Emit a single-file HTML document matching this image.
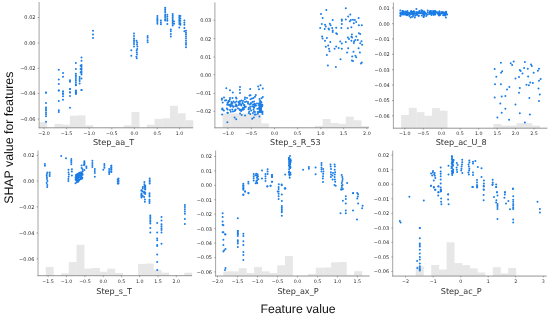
<!DOCTYPE html>
<html><head><meta charset="utf-8"><title>SHAP dependence plots</title>
<style>html,body{margin:0;padding:0;background:#fff;overflow:hidden}svg{display:block}text{text-rendering:geometricPrecision}.tk{font-family:"DejaVu Sans","Liberation Sans",sans-serif;font-size:4.75px;fill:#2a2a2a}.ty{font-size:5px}.xl{font-family:"DejaVu Sans","Liberation Sans",sans-serif;font-size:8.1px;fill:#333}.big{font-family:"Liberation Sans",Arial,sans-serif;fill:#111}</style></head><body>
<svg width="550" height="316" viewBox="0 0 550 316">
<rect width="550" height="316" fill="#fff"/>
<g>
<rect x="39.10" y="122.10" width="7.95" height="5.70" fill="#e7e7e7"/>
<rect x="54.50" y="123.90" width="7.95" height="3.90" fill="#e7e7e7"/>
<rect x="62.20" y="124.70" width="7.95" height="3.10" fill="#e7e7e7"/>
<rect x="69.90" y="115.70" width="7.95" height="12.10" fill="#e7e7e7"/>
<rect x="77.60" y="115.40" width="7.95" height="12.40" fill="#e7e7e7"/>
<rect x="85.30" y="125.30" width="7.95" height="2.50" fill="#e7e7e7"/>
<rect x="123.80" y="125.30" width="7.95" height="2.50" fill="#e7e7e7"/>
<rect x="131.50" y="111.90" width="7.95" height="15.90" fill="#e7e7e7"/>
<rect x="146.90" y="124.70" width="7.95" height="3.10" fill="#e7e7e7"/>
<rect x="154.60" y="118.90" width="7.95" height="8.90" fill="#e7e7e7"/>
<rect x="162.30" y="118.30" width="7.95" height="9.50" fill="#e7e7e7"/>
<rect x="170.00" y="105.80" width="7.95" height="22.00" fill="#e7e7e7"/>
<rect x="177.70" y="113.30" width="7.95" height="14.50" fill="#e7e7e7"/>
<rect x="185.40" y="120.20" width="7.95" height="7.60" fill="#e7e7e7"/>
<line x1="39.10" y1="2.00" x2="39.10" y2="128.20" stroke="#9a9a9a" stroke-width="0.9"/>
<line x1="38.70" y1="127.80" x2="193.10" y2="127.80" stroke="#888" stroke-width="0.9"/>
<line x1="37.70" y1="17.50" x2="39.10" y2="17.50" stroke="#555" stroke-width="0.5"/><text class="tk ty" x="35.50" y="19.35" text-anchor="end">0.02</text>
<line x1="37.70" y1="43.00" x2="39.10" y2="43.00" stroke="#555" stroke-width="0.5"/><text class="tk ty" x="35.50" y="44.85" text-anchor="end">0.00</text>
<line x1="37.70" y1="68.30" x2="39.10" y2="68.30" stroke="#555" stroke-width="0.5"/><text class="tk ty" x="35.50" y="70.15" text-anchor="end">−0.02</text>
<line x1="37.70" y1="93.50" x2="39.10" y2="93.50" stroke="#555" stroke-width="0.5"/><text class="tk ty" x="35.50" y="95.35" text-anchor="end">−0.04</text>
<line x1="37.70" y1="119.00" x2="39.10" y2="119.00" stroke="#555" stroke-width="0.5"/><text class="tk ty" x="35.50" y="120.85" text-anchor="end">−0.06</text>
<line x1="44.00" y1="127.80" x2="44.00" y2="129.20" stroke="#555" stroke-width="0.5"/><text class="tk" x="44.00" y="135.00" text-anchor="middle">−2.0</text>
<line x1="66.60" y1="127.80" x2="66.60" y2="129.20" stroke="#555" stroke-width="0.5"/><text class="tk" x="66.60" y="135.00" text-anchor="middle">−1.5</text>
<line x1="89.20" y1="127.80" x2="89.20" y2="129.20" stroke="#555" stroke-width="0.5"/><text class="tk" x="89.20" y="135.00" text-anchor="middle">−1.0</text>
<line x1="111.80" y1="127.80" x2="111.80" y2="129.20" stroke="#555" stroke-width="0.5"/><text class="tk" x="111.80" y="135.00" text-anchor="middle">−0.5</text>
<line x1="134.40" y1="127.80" x2="134.40" y2="129.20" stroke="#555" stroke-width="0.5"/><text class="tk" x="134.40" y="135.00" text-anchor="middle">0.0</text>
<line x1="157.20" y1="127.80" x2="157.20" y2="129.20" stroke="#555" stroke-width="0.5"/><text class="tk" x="157.20" y="135.00" text-anchor="middle">0.5</text>
<line x1="179.60" y1="127.80" x2="179.60" y2="129.20" stroke="#555" stroke-width="0.5"/><text class="tk" x="179.60" y="135.00" text-anchor="middle">1.0</text>
<text class="xl" x="113.60" y="145.45" text-anchor="middle">Step_aa_T</text>
</g>
<g>
<rect x="222.60" y="113.60" width="7.95" height="14.20" fill="#e7e7e7"/>
<rect x="230.30" y="113.40" width="7.95" height="14.40" fill="#e7e7e7"/>
<rect x="238.00" y="113.80" width="7.95" height="14.00" fill="#e7e7e7"/>
<rect x="245.70" y="113.20" width="7.95" height="14.60" fill="#e7e7e7"/>
<rect x="253.40" y="114.00" width="7.95" height="13.80" fill="#e7e7e7"/>
<rect x="261.10" y="123.40" width="7.95" height="4.40" fill="#e7e7e7"/>
<rect x="315.00" y="125.90" width="7.95" height="1.90" fill="#e7e7e7"/>
<rect x="322.70" y="119.00" width="7.95" height="8.80" fill="#e7e7e7"/>
<rect x="330.40" y="123.00" width="7.95" height="4.80" fill="#e7e7e7"/>
<rect x="338.10" y="123.80" width="7.95" height="4.00" fill="#e7e7e7"/>
<rect x="345.80" y="116.60" width="7.95" height="11.20" fill="#e7e7e7"/>
<rect x="353.50" y="120.30" width="7.95" height="7.50" fill="#e7e7e7"/>
<rect x="361.20" y="126.20" width="7.95" height="1.60" fill="#e7e7e7"/>
<line x1="214.90" y1="2.40" x2="214.90" y2="128.20" stroke="#9a9a9a" stroke-width="0.9"/>
<line x1="214.50" y1="127.80" x2="368.90" y2="127.80" stroke="#888" stroke-width="0.9"/>
<line x1="213.50" y1="20.30" x2="214.90" y2="20.30" stroke="#555" stroke-width="0.5"/><text class="tk ty" x="211.30" y="22.15" text-anchor="end">0.03</text>
<line x1="213.50" y1="38.70" x2="214.90" y2="38.70" stroke="#555" stroke-width="0.5"/><text class="tk ty" x="211.30" y="40.55" text-anchor="end">0.02</text>
<line x1="213.50" y1="57.10" x2="214.90" y2="57.10" stroke="#555" stroke-width="0.5"/><text class="tk ty" x="211.30" y="58.95" text-anchor="end">0.01</text>
<line x1="213.50" y1="74.70" x2="214.90" y2="74.70" stroke="#555" stroke-width="0.5"/><text class="tk ty" x="211.30" y="76.55" text-anchor="end">0.00</text>
<line x1="213.50" y1="93.50" x2="214.90" y2="93.50" stroke="#555" stroke-width="0.5"/><text class="tk ty" x="211.30" y="95.35" text-anchor="end">−0.01</text>
<line x1="213.50" y1="111.40" x2="214.90" y2="111.40" stroke="#555" stroke-width="0.5"/><text class="tk ty" x="211.30" y="113.25" text-anchor="end">−0.02</text>
<line x1="227.90" y1="127.80" x2="227.90" y2="129.20" stroke="#555" stroke-width="0.5"/><text class="tk" x="227.90" y="135.00" text-anchor="middle">−1.0</text>
<line x1="251.30" y1="127.80" x2="251.30" y2="129.20" stroke="#555" stroke-width="0.5"/><text class="tk" x="251.30" y="135.00" text-anchor="middle">−0.5</text>
<line x1="274.50" y1="127.80" x2="274.50" y2="129.20" stroke="#555" stroke-width="0.5"/><text class="tk" x="274.50" y="135.00" text-anchor="middle">0.0</text>
<line x1="297.60" y1="127.80" x2="297.60" y2="129.20" stroke="#555" stroke-width="0.5"/><text class="tk" x="297.60" y="135.00" text-anchor="middle">0.5</text>
<line x1="320.80" y1="127.80" x2="320.80" y2="129.20" stroke="#555" stroke-width="0.5"/><text class="tk" x="320.80" y="135.00" text-anchor="middle">1.0</text>
<line x1="343.60" y1="127.80" x2="343.60" y2="129.20" stroke="#555" stroke-width="0.5"/><text class="tk" x="343.60" y="135.00" text-anchor="middle">1.5</text>
<line x1="366.90" y1="127.80" x2="366.90" y2="129.20" stroke="#555" stroke-width="0.5"/><text class="tk" x="366.90" y="135.00" text-anchor="middle">2.0</text>
<text class="xl" x="295.40" y="145.45" text-anchor="middle">Step_s_R_53</text>
</g>
<g>
<rect x="401.10" y="115.00" width="7.95" height="13.20" fill="#e7e7e7"/>
<rect x="408.80" y="107.80" width="7.95" height="20.40" fill="#e7e7e7"/>
<rect x="416.50" y="112.10" width="7.95" height="16.10" fill="#e7e7e7"/>
<rect x="424.20" y="115.80" width="7.95" height="12.40" fill="#e7e7e7"/>
<rect x="431.90" y="108.10" width="7.95" height="20.10" fill="#e7e7e7"/>
<rect x="439.60" y="110.70" width="7.95" height="17.50" fill="#e7e7e7"/>
<rect x="493.50" y="124.00" width="7.95" height="4.20" fill="#e7e7e7"/>
<rect x="501.20" y="125.60" width="7.95" height="2.60" fill="#e7e7e7"/>
<rect x="508.90" y="125.60" width="7.95" height="2.60" fill="#e7e7e7"/>
<rect x="516.60" y="123.20" width="7.95" height="5.00" fill="#e7e7e7"/>
<rect x="524.30" y="123.20" width="7.95" height="5.00" fill="#e7e7e7"/>
<rect x="532.00" y="125.60" width="7.95" height="2.60" fill="#e7e7e7"/>
<line x1="393.40" y1="2.40" x2="393.40" y2="128.60" stroke="#9a9a9a" stroke-width="0.9"/>
<line x1="393.00" y1="128.20" x2="547.40" y2="128.20" stroke="#888" stroke-width="0.9"/>
<line x1="392.00" y1="8.00" x2="393.40" y2="8.00" stroke="#555" stroke-width="0.5"/><text class="tk ty" x="389.80" y="9.85" text-anchor="end">0.01</text>
<line x1="392.00" y1="23.70" x2="393.40" y2="23.70" stroke="#555" stroke-width="0.5"/><text class="tk ty" x="389.80" y="25.55" text-anchor="end">0.00</text>
<line x1="392.00" y1="38.90" x2="393.40" y2="38.90" stroke="#555" stroke-width="0.5"/><text class="tk ty" x="389.80" y="40.75" text-anchor="end">−0.01</text>
<line x1="392.00" y1="54.30" x2="393.40" y2="54.30" stroke="#555" stroke-width="0.5"/><text class="tk ty" x="389.80" y="56.15" text-anchor="end">−0.02</text>
<line x1="392.00" y1="69.70" x2="393.40" y2="69.70" stroke="#555" stroke-width="0.5"/><text class="tk ty" x="389.80" y="71.55" text-anchor="end">−0.03</text>
<line x1="392.00" y1="85.10" x2="393.40" y2="85.10" stroke="#555" stroke-width="0.5"/><text class="tk ty" x="389.80" y="86.95" text-anchor="end">−0.04</text>
<line x1="392.00" y1="100.60" x2="393.40" y2="100.60" stroke="#555" stroke-width="0.5"/><text class="tk ty" x="389.80" y="102.45" text-anchor="end">−0.05</text>
<line x1="392.00" y1="115.80" x2="393.40" y2="115.80" stroke="#555" stroke-width="0.5"/><text class="tk ty" x="389.80" y="117.65" text-anchor="end">−0.06</text>
<line x1="404.80" y1="128.20" x2="404.80" y2="129.60" stroke="#555" stroke-width="0.5"/><text class="tk" x="404.80" y="135.40" text-anchor="middle">−1.0</text>
<line x1="423.30" y1="128.20" x2="423.30" y2="129.60" stroke="#555" stroke-width="0.5"/><text class="tk" x="423.30" y="135.40" text-anchor="middle">−0.5</text>
<line x1="441.60" y1="128.20" x2="441.60" y2="129.60" stroke="#555" stroke-width="0.5"/><text class="tk" x="441.60" y="135.40" text-anchor="middle">0.0</text>
<line x1="460.10" y1="128.20" x2="460.10" y2="129.60" stroke="#555" stroke-width="0.5"/><text class="tk" x="460.10" y="135.40" text-anchor="middle">0.5</text>
<line x1="478.70" y1="128.20" x2="478.70" y2="129.60" stroke="#555" stroke-width="0.5"/><text class="tk" x="478.70" y="135.40" text-anchor="middle">1.0</text>
<line x1="497.20" y1="128.20" x2="497.20" y2="129.60" stroke="#555" stroke-width="0.5"/><text class="tk" x="497.20" y="135.40" text-anchor="middle">1.5</text>
<line x1="515.60" y1="128.20" x2="515.60" y2="129.60" stroke="#555" stroke-width="0.5"/><text class="tk" x="515.60" y="135.40" text-anchor="middle">2.0</text>
<line x1="534.00" y1="128.20" x2="534.00" y2="129.60" stroke="#555" stroke-width="0.5"/><text class="tk" x="534.00" y="135.40" text-anchor="middle">2.5</text>
<text class="xl" x="461.20" y="145.25" text-anchor="middle">Step_ac_U_8</text>
</g>
<g>
<rect x="45.70" y="266.90" width="7.95" height="8.80" fill="#e7e7e7"/>
<rect x="61.10" y="273.30" width="7.95" height="2.40" fill="#e7e7e7"/>
<rect x="68.80" y="262.10" width="7.95" height="13.60" fill="#e7e7e7"/>
<rect x="76.50" y="244.80" width="7.95" height="30.90" fill="#e7e7e7"/>
<rect x="84.20" y="268.50" width="7.95" height="7.20" fill="#e7e7e7"/>
<rect x="91.90" y="268.00" width="7.95" height="7.70" fill="#e7e7e7"/>
<rect x="99.60" y="271.70" width="7.95" height="4.00" fill="#e7e7e7"/>
<rect x="107.30" y="268.70" width="7.95" height="7.00" fill="#e7e7e7"/>
<rect x="115.00" y="273.00" width="7.95" height="2.70" fill="#e7e7e7"/>
<rect x="138.10" y="263.90" width="7.95" height="11.80" fill="#e7e7e7"/>
<rect x="145.80" y="263.50" width="7.95" height="12.20" fill="#e7e7e7"/>
<rect x="153.50" y="269.80" width="7.95" height="5.90" fill="#e7e7e7"/>
<rect x="161.20" y="272.70" width="7.95" height="3.00" fill="#e7e7e7"/>
<rect x="184.30" y="272.70" width="7.95" height="3.00" fill="#e7e7e7"/>
<line x1="38.00" y1="150.60" x2="38.00" y2="276.10" stroke="#9a9a9a" stroke-width="0.9"/>
<line x1="37.60" y1="275.70" x2="192.00" y2="275.70" stroke="#888" stroke-width="0.9"/>
<line x1="36.60" y1="155.40" x2="38.00" y2="155.40" stroke="#555" stroke-width="0.5"/><text class="tk ty" x="34.40" y="157.25" text-anchor="end">0.02</text>
<line x1="36.60" y1="181.00" x2="38.00" y2="181.00" stroke="#555" stroke-width="0.5"/><text class="tk ty" x="34.40" y="182.85" text-anchor="end">0.00</text>
<line x1="36.60" y1="206.90" x2="38.00" y2="206.90" stroke="#555" stroke-width="0.5"/><text class="tk ty" x="34.40" y="208.75" text-anchor="end">−0.02</text>
<line x1="36.60" y1="232.90" x2="38.00" y2="232.90" stroke="#555" stroke-width="0.5"/><text class="tk ty" x="34.40" y="234.75" text-anchor="end">−0.04</text>
<line x1="36.60" y1="258.80" x2="38.00" y2="258.80" stroke="#555" stroke-width="0.5"/><text class="tk ty" x="34.40" y="260.65" text-anchor="end">−0.06</text>
<line x1="48.10" y1="275.70" x2="48.10" y2="277.10" stroke="#555" stroke-width="0.5"/><text class="tk" x="48.10" y="282.90" text-anchor="middle">−1.5</text>
<line x1="66.50" y1="275.70" x2="66.50" y2="277.10" stroke="#555" stroke-width="0.5"/><text class="tk" x="66.50" y="282.90" text-anchor="middle">−1.0</text>
<line x1="84.90" y1="275.70" x2="84.90" y2="277.10" stroke="#555" stroke-width="0.5"/><text class="tk" x="84.90" y="282.90" text-anchor="middle">−0.5</text>
<line x1="103.30" y1="275.70" x2="103.30" y2="277.10" stroke="#555" stroke-width="0.5"/><text class="tk" x="103.30" y="282.90" text-anchor="middle">0.0</text>
<line x1="121.50" y1="275.70" x2="121.50" y2="277.10" stroke="#555" stroke-width="0.5"/><text class="tk" x="121.50" y="282.90" text-anchor="middle">0.5</text>
<line x1="139.70" y1="275.70" x2="139.70" y2="277.10" stroke="#555" stroke-width="0.5"/><text class="tk" x="139.70" y="282.90" text-anchor="middle">1.0</text>
<line x1="158.00" y1="275.70" x2="158.00" y2="277.10" stroke="#555" stroke-width="0.5"/><text class="tk" x="158.00" y="282.90" text-anchor="middle">1.5</text>
<line x1="176.30" y1="275.70" x2="176.30" y2="277.10" stroke="#555" stroke-width="0.5"/><text class="tk" x="176.30" y="282.90" text-anchor="middle">2.0</text>
<text class="xl" x="114.10" y="294.15" text-anchor="middle">Step_s_T</text>
</g>
<g>
<rect x="223.30" y="271.40" width="7.95" height="4.60" fill="#e7e7e7"/>
<rect x="231.00" y="271.40" width="7.95" height="4.60" fill="#e7e7e7"/>
<rect x="238.70" y="268.20" width="7.95" height="7.80" fill="#e7e7e7"/>
<rect x="246.40" y="273.00" width="7.95" height="3.00" fill="#e7e7e7"/>
<rect x="254.10" y="266.90" width="7.95" height="9.10" fill="#e7e7e7"/>
<rect x="261.80" y="271.40" width="7.95" height="4.60" fill="#e7e7e7"/>
<rect x="269.50" y="273.00" width="7.95" height="3.00" fill="#e7e7e7"/>
<rect x="277.20" y="265.30" width="7.95" height="10.70" fill="#e7e7e7"/>
<rect x="284.90" y="256.10" width="7.95" height="19.90" fill="#e7e7e7"/>
<rect x="308.00" y="274.10" width="7.95" height="1.90" fill="#e7e7e7"/>
<rect x="315.70" y="267.70" width="7.95" height="8.30" fill="#e7e7e7"/>
<rect x="323.40" y="267.50" width="7.95" height="8.50" fill="#e7e7e7"/>
<rect x="331.10" y="262.30" width="7.95" height="13.70" fill="#e7e7e7"/>
<rect x="338.80" y="262.00" width="7.95" height="14.00" fill="#e7e7e7"/>
<rect x="346.50" y="274.90" width="7.95" height="1.10" fill="#e7e7e7"/>
<rect x="354.20" y="271.20" width="7.95" height="4.80" fill="#e7e7e7"/>
<line x1="215.60" y1="150.60" x2="215.60" y2="276.40" stroke="#9a9a9a" stroke-width="0.9"/>
<line x1="215.20" y1="276.00" x2="369.60" y2="276.00" stroke="#888" stroke-width="0.9"/>
<line x1="214.20" y1="156.50" x2="215.60" y2="156.50" stroke="#555" stroke-width="0.5"/><text class="tk ty" x="212.00" y="158.35" text-anchor="end">0.02</text>
<line x1="214.20" y1="170.90" x2="215.60" y2="170.90" stroke="#555" stroke-width="0.5"/><text class="tk ty" x="212.00" y="172.75" text-anchor="end">0.01</text>
<line x1="214.20" y1="185.40" x2="215.60" y2="185.40" stroke="#555" stroke-width="0.5"/><text class="tk ty" x="212.00" y="187.25" text-anchor="end">0.00</text>
<line x1="214.20" y1="199.80" x2="215.60" y2="199.80" stroke="#555" stroke-width="0.5"/><text class="tk ty" x="212.00" y="201.65" text-anchor="end">−0.01</text>
<line x1="214.20" y1="214.20" x2="215.60" y2="214.20" stroke="#555" stroke-width="0.5"/><text class="tk ty" x="212.00" y="216.05" text-anchor="end">−0.02</text>
<line x1="214.20" y1="228.70" x2="215.60" y2="228.70" stroke="#555" stroke-width="0.5"/><text class="tk ty" x="212.00" y="230.55" text-anchor="end">−0.03</text>
<line x1="214.20" y1="243.10" x2="215.60" y2="243.10" stroke="#555" stroke-width="0.5"/><text class="tk ty" x="212.00" y="244.95" text-anchor="end">−0.04</text>
<line x1="214.20" y1="257.50" x2="215.60" y2="257.50" stroke="#555" stroke-width="0.5"/><text class="tk ty" x="212.00" y="259.35" text-anchor="end">−0.05</text>
<line x1="214.20" y1="271.90" x2="215.60" y2="271.90" stroke="#555" stroke-width="0.5"/><text class="tk ty" x="212.00" y="273.75" text-anchor="end">−0.06</text>
<line x1="217.50" y1="276.00" x2="217.50" y2="277.40" stroke="#555" stroke-width="0.5"/><text class="tk" x="217.50" y="283.20" text-anchor="middle">−2.0</text>
<line x1="237.50" y1="276.00" x2="237.50" y2="277.40" stroke="#555" stroke-width="0.5"/><text class="tk" x="237.50" y="283.20" text-anchor="middle">−1.5</text>
<line x1="257.50" y1="276.00" x2="257.50" y2="277.40" stroke="#555" stroke-width="0.5"/><text class="tk" x="257.50" y="283.20" text-anchor="middle">−1.0</text>
<line x1="277.50" y1="276.00" x2="277.50" y2="277.40" stroke="#555" stroke-width="0.5"/><text class="tk" x="277.50" y="283.20" text-anchor="middle">−0.5</text>
<line x1="297.50" y1="276.00" x2="297.50" y2="277.40" stroke="#555" stroke-width="0.5"/><text class="tk" x="297.50" y="283.20" text-anchor="middle">0.0</text>
<line x1="317.50" y1="276.00" x2="317.50" y2="277.40" stroke="#555" stroke-width="0.5"/><text class="tk" x="317.50" y="283.20" text-anchor="middle">0.5</text>
<line x1="337.50" y1="276.00" x2="337.50" y2="277.40" stroke="#555" stroke-width="0.5"/><text class="tk" x="337.50" y="283.20" text-anchor="middle">1.0</text>
<line x1="357.30" y1="276.00" x2="357.30" y2="277.40" stroke="#555" stroke-width="0.5"/><text class="tk" x="357.30" y="283.20" text-anchor="middle">1.5</text>
<text class="xl" x="298.00" y="294.15" text-anchor="middle">Step_ax_P</text>
</g>
<g>
<rect x="415.80" y="266.30" width="7.95" height="9.75" fill="#e7e7e7"/>
<rect x="431.20" y="265.00" width="7.95" height="11.05" fill="#e7e7e7"/>
<rect x="438.90" y="269.50" width="7.95" height="6.55" fill="#e7e7e7"/>
<rect x="446.60" y="242.30" width="7.95" height="33.75" fill="#e7e7e7"/>
<rect x="454.30" y="263.10" width="7.95" height="12.95" fill="#e7e7e7"/>
<rect x="462.00" y="265.20" width="7.95" height="10.85" fill="#e7e7e7"/>
<rect x="469.70" y="268.40" width="7.95" height="7.65" fill="#e7e7e7"/>
<rect x="477.40" y="272.50" width="7.95" height="3.55" fill="#e7e7e7"/>
<rect x="492.80" y="267.20" width="7.95" height="8.85" fill="#e7e7e7"/>
<rect x="500.50" y="273.30" width="7.95" height="2.75" fill="#e7e7e7"/>
<rect x="508.20" y="268.00" width="7.95" height="8.05" fill="#e7e7e7"/>
<line x1="392.70" y1="150.60" x2="392.70" y2="276.45" stroke="#9a9a9a" stroke-width="0.9"/>
<line x1="392.30" y1="276.05" x2="546.70" y2="276.05" stroke="#888" stroke-width="0.9"/>
<line x1="391.30" y1="155.10" x2="392.70" y2="155.10" stroke="#555" stroke-width="0.5"/><text class="tk ty" x="389.10" y="156.95" text-anchor="end">0.02</text>
<line x1="391.30" y1="169.70" x2="392.70" y2="169.70" stroke="#555" stroke-width="0.5"/><text class="tk ty" x="389.10" y="171.55" text-anchor="end">0.01</text>
<line x1="391.30" y1="184.20" x2="392.70" y2="184.20" stroke="#555" stroke-width="0.5"/><text class="tk ty" x="389.10" y="186.05" text-anchor="end">0.00</text>
<line x1="391.30" y1="198.80" x2="392.70" y2="198.80" stroke="#555" stroke-width="0.5"/><text class="tk ty" x="389.10" y="200.65" text-anchor="end">−0.01</text>
<line x1="391.30" y1="213.30" x2="392.70" y2="213.30" stroke="#555" stroke-width="0.5"/><text class="tk ty" x="389.10" y="215.15" text-anchor="end">−0.02</text>
<line x1="391.30" y1="227.90" x2="392.70" y2="227.90" stroke="#555" stroke-width="0.5"/><text class="tk ty" x="389.10" y="229.75" text-anchor="end">−0.03</text>
<line x1="391.30" y1="242.40" x2="392.70" y2="242.40" stroke="#555" stroke-width="0.5"/><text class="tk ty" x="389.10" y="244.25" text-anchor="end">−0.04</text>
<line x1="391.30" y1="257.00" x2="392.70" y2="257.00" stroke="#555" stroke-width="0.5"/><text class="tk ty" x="389.10" y="258.85" text-anchor="end">−0.05</text>
<line x1="391.30" y1="271.50" x2="392.70" y2="271.50" stroke="#555" stroke-width="0.5"/><text class="tk ty" x="389.10" y="273.35" text-anchor="end">−0.06</text>
<line x1="405.50" y1="276.05" x2="405.50" y2="277.45" stroke="#555" stroke-width="0.5"/><text class="tk" x="405.50" y="283.25" text-anchor="middle">−2</text>
<line x1="433.20" y1="276.05" x2="433.20" y2="277.45" stroke="#555" stroke-width="0.5"/><text class="tk" x="433.20" y="283.25" text-anchor="middle">−1</text>
<line x1="460.80" y1="276.05" x2="460.80" y2="277.45" stroke="#555" stroke-width="0.5"/><text class="tk" x="460.80" y="283.25" text-anchor="middle">0</text>
<line x1="488.20" y1="276.05" x2="488.20" y2="277.45" stroke="#555" stroke-width="0.5"/><text class="tk" x="488.20" y="283.25" text-anchor="middle">1</text>
<line x1="515.70" y1="276.05" x2="515.70" y2="277.45" stroke="#555" stroke-width="0.5"/><text class="tk" x="515.70" y="283.25" text-anchor="middle">2</text>
<line x1="543.30" y1="276.05" x2="543.30" y2="277.45" stroke="#555" stroke-width="0.5"/><text class="tk" x="543.30" y="283.25" text-anchor="middle">3</text>
<text class="xl" x="461.20" y="294.15" text-anchor="middle">Step_ac_P</text>
</g>
<g fill="#1b7de6">
<circle cx="93.0" cy="30.7" r="1"/><circle cx="93.0" cy="34.4" r="1"/><circle cx="93.0" cy="38.1" r="1"/><circle cx="134.0" cy="33.6" r="1"/><circle cx="134.0" cy="36.0" r="1"/><circle cx="134.0" cy="38.4" r="1"/><circle cx="134.0" cy="40.3" r="1"/><circle cx="134.0" cy="41.9" r="1"/><circle cx="134.0" cy="44.0" r="1"/><circle cx="134.0" cy="46.4" r="1"/><circle cx="157.4" cy="16.0" r="1"/><circle cx="157.4" cy="17.9" r="1"/><circle cx="157.4" cy="19.2" r="1"/><circle cx="157.4" cy="20.5" r="1"/><circle cx="157.4" cy="22.1" r="1"/><circle cx="157.4" cy="23.7" r="1"/><circle cx="160.9" cy="20.5" r="1"/><circle cx="160.9" cy="22.4" r="1"/><circle cx="160.9" cy="24.3" r="1"/><circle cx="165.2" cy="7.7" r="1"/><circle cx="165.2" cy="9.3" r="1"/><circle cx="165.2" cy="10.9" r="1"/><circle cx="165.2" cy="12.5" r="1"/><circle cx="165.2" cy="14.7" r="1"/><circle cx="165.2" cy="16.0" r="1"/><circle cx="165.2" cy="17.6" r="1"/><circle cx="165.2" cy="19.2" r="1"/><circle cx="165.2" cy="20.5" r="1"/><circle cx="167.3" cy="14.7" r="1"/><circle cx="167.3" cy="16.8" r="1"/><circle cx="167.3" cy="18.9" r="1"/><circle cx="167.3" cy="20.8" r="1"/><circle cx="167.3" cy="24.0" r="1"/><circle cx="170.8" cy="29.6" r="1"/><circle cx="170.8" cy="31.2" r="1"/><circle cx="170.8" cy="33.9" r="1"/><circle cx="170.8" cy="36.5" r="1"/><circle cx="172.7" cy="14.1" r="1"/><circle cx="172.7" cy="15.7" r="1"/><circle cx="172.7" cy="17.3" r="1"/><circle cx="172.7" cy="18.9" r="1"/><circle cx="172.7" cy="20.5" r="1"/><circle cx="172.7" cy="22.1" r="1"/><circle cx="172.7" cy="23.7" r="1"/><circle cx="172.7" cy="25.6" r="1"/><circle cx="174.0" cy="21.6" r="1"/><circle cx="174.0" cy="23.7" r="1"/><circle cx="179.3" cy="15.7" r="1"/><circle cx="179.3" cy="17.3" r="1"/><circle cx="179.3" cy="18.9" r="1"/><circle cx="179.3" cy="20.5" r="1"/><circle cx="179.3" cy="22.1" r="1"/><circle cx="179.3" cy="24.0" r="1"/><circle cx="179.3" cy="27.5" r="1"/><circle cx="180.4" cy="16.0" r="1"/><circle cx="180.4" cy="18.4" r="1"/><circle cx="180.4" cy="20.8" r="1"/><circle cx="180.4" cy="23.2" r="1"/><circle cx="180.4" cy="24.8" r="1"/><circle cx="184.4" cy="20.5" r="1"/><circle cx="184.4" cy="22.7" r="1"/><circle cx="184.4" cy="24.8" r="1"/><circle cx="184.4" cy="28.0" r="1"/><circle cx="184.4" cy="31.2" r="1"/><circle cx="186.0" cy="30.7" r="1"/><circle cx="186.0" cy="32.8" r="1"/><circle cx="186.0" cy="34.4" r="1"/><circle cx="186.0" cy="36.5" r="1"/><circle cx="186.0" cy="38.4" r="1"/><circle cx="186.0" cy="40.8" r="1"/><circle cx="186.0" cy="42.9" r="1"/><circle cx="186.0" cy="44.8" r="1"/><circle cx="186.0" cy="47.2" r="1"/><circle cx="131.3" cy="50.3" r="1"/><circle cx="131.3" cy="55.7" r="1"/><circle cx="136.5" cy="40.7" r="1"/><circle cx="137.1" cy="42.6" r="1"/><circle cx="137.0" cy="44.5" r="1"/><circle cx="137.4" cy="46.6" r="1"/><circle cx="137.2" cy="49.0" r="1"/><circle cx="136.7" cy="50.6" r="1"/><circle cx="136.8" cy="52.5" r="1"/><circle cx="137.0" cy="54.6" r="1"/><circle cx="136.4" cy="56.7" r="1"/><circle cx="136.8" cy="58.3" r="1"/><circle cx="147.6" cy="35.9" r="1"/><circle cx="147.6" cy="37.8" r="1"/><circle cx="147.6" cy="40.2" r="1"/><circle cx="147.6" cy="42.3" r="1"/><circle cx="46.0" cy="92.5" r="1"/><circle cx="58.8" cy="69.8" r="1"/><circle cx="58.8" cy="79.4" r="1"/><circle cx="58.8" cy="83.9" r="1"/><circle cx="58.8" cy="90.6" r="1"/><circle cx="63.0" cy="73.0" r="1"/><circle cx="63.0" cy="76.7" r="1"/><circle cx="63.0" cy="91.4" r="1"/><circle cx="63.0" cy="93.8" r="1"/><circle cx="70.0" cy="80.2" r="1"/><circle cx="70.0" cy="81.8" r="1"/><circle cx="70.0" cy="89.0" r="1"/><circle cx="70.0" cy="92.5" r="1"/><circle cx="75.9" cy="63.1" r="1"/><circle cx="75.9" cy="69.0" r="1"/><circle cx="75.9" cy="73.8" r="1"/><circle cx="75.9" cy="75.4" r="1"/><circle cx="75.9" cy="77.0" r="1"/><circle cx="75.9" cy="78.9" r="1"/><circle cx="75.9" cy="80.8" r="1"/><circle cx="75.9" cy="82.8" r="1"/><circle cx="75.9" cy="84.7" r="1"/><circle cx="75.9" cy="90.6" r="1"/><circle cx="75.9" cy="92.2" r="1"/><circle cx="75.9" cy="93.8" r="1"/><circle cx="79.6" cy="77.0" r="1"/><circle cx="79.6" cy="78.9" r="1"/><circle cx="79.6" cy="81.0" r="1"/><circle cx="79.6" cy="83.4" r="1"/><circle cx="81.5" cy="57.5" r="1"/><circle cx="81.5" cy="60.7" r="1"/><circle cx="81.5" cy="65.0" r="1"/><circle cx="81.5" cy="66.6" r="1"/><circle cx="81.5" cy="68.2" r="1"/><circle cx="81.5" cy="69.8" r="1"/><circle cx="81.5" cy="71.4" r="1"/><circle cx="81.5" cy="73.0" r="1"/><circle cx="81.5" cy="74.6" r="1"/><circle cx="81.5" cy="78.6" r="1"/><circle cx="81.5" cy="90.1" r="1"/><circle cx="80.6" cy="65.8" r="1"/><circle cx="80.6" cy="69.0" r="1"/><circle cx="80.6" cy="72.2" r="1"/><circle cx="46.0" cy="92.7" r="1"/><circle cx="46.0" cy="102.9" r="1"/><circle cx="46.0" cy="107.4" r="1"/><circle cx="46.0" cy="109.0" r="1"/><circle cx="46.0" cy="110.6" r="1"/><circle cx="46.0" cy="112.5" r="1"/><circle cx="46.0" cy="114.3" r="1"/><circle cx="46.0" cy="116.2" r="1"/><circle cx="46.0" cy="121.8" r="1"/><circle cx="58.8" cy="90.6" r="1"/><circle cx="58.8" cy="101.0" r="1"/><circle cx="58.8" cy="110.3" r="1"/><circle cx="58.8" cy="111.9" r="1"/><circle cx="63.0" cy="91.4" r="1"/><circle cx="63.0" cy="93.8" r="1"/><circle cx="63.0" cy="96.2" r="1"/><circle cx="63.0" cy="99.7" r="1"/><circle cx="70.0" cy="89.0" r="1"/><circle cx="70.0" cy="92.2" r="1"/><circle cx="70.0" cy="95.9" r="1"/><circle cx="70.0" cy="107.7" r="1"/><circle cx="75.9" cy="85.3" r="1"/><circle cx="75.9" cy="91.1" r="1"/><circle cx="75.9" cy="92.5" r="1"/><circle cx="75.9" cy="93.8" r="1"/><circle cx="81.5" cy="90.1" r="1"/><circle cx="326.3" cy="10.1" r="1"/><circle cx="321.0" cy="14.1" r="1"/><circle cx="345.8" cy="8.3" r="1"/><circle cx="350.3" cy="14.4" r="1"/><circle cx="348.2" cy="16.5" r="1"/><circle cx="322.6" cy="18.1" r="1"/><circle cx="358.6" cy="18.1" r="1"/><circle cx="332.7" cy="20.0" r="1"/><circle cx="341.8" cy="19.5" r="1"/><circle cx="341.8" cy="20.8" r="1"/><circle cx="345.8" cy="19.5" r="1"/><circle cx="350.9" cy="20.0" r="1"/><circle cx="353.0" cy="19.7" r="1"/><circle cx="354.9" cy="20.0" r="1"/><circle cx="349.8" cy="21.3" r="1"/><circle cx="356.2" cy="21.9" r="1"/><circle cx="353.8" cy="23.2" r="1"/><circle cx="321.8" cy="24.0" r="1"/><circle cx="325.0" cy="24.8" r="1"/><circle cx="329.8" cy="23.7" r="1"/><circle cx="330.6" cy="25.3" r="1"/><circle cx="341.8" cy="24.0" r="1"/><circle cx="358.9" cy="25.3" r="1"/><circle cx="361.8" cy="25.3" r="1"/><circle cx="325.8" cy="26.4" r="1"/><circle cx="320.2" cy="28.0" r="1"/><circle cx="324.7" cy="29.1" r="1"/><circle cx="328.5" cy="28.5" r="1"/><circle cx="329.0" cy="29.6" r="1"/><circle cx="332.2" cy="28.0" r="1"/><circle cx="336.2" cy="27.7" r="1"/><circle cx="341.3" cy="28.0" r="1"/><circle cx="347.9" cy="28.3" r="1"/><circle cx="351.4" cy="27.2" r="1"/><circle cx="332.7" cy="30.4" r="1"/><circle cx="332.7" cy="32.0" r="1"/><circle cx="336.2" cy="33.3" r="1"/><circle cx="337.0" cy="33.9" r="1"/><circle cx="358.9" cy="33.3" r="1"/><circle cx="360.2" cy="34.1" r="1"/><circle cx="351.9" cy="34.4" r="1"/><circle cx="322.1" cy="36.5" r="1"/><circle cx="322.6" cy="38.4" r="1"/><circle cx="326.9" cy="37.9" r="1"/><circle cx="325.0" cy="40.8" r="1"/><circle cx="330.3" cy="41.9" r="1"/><circle cx="347.9" cy="37.6" r="1"/><circle cx="349.0" cy="38.9" r="1"/><circle cx="351.4" cy="36.8" r="1"/><circle cx="352.2" cy="37.6" r="1"/><circle cx="356.2" cy="36.5" r="1"/><circle cx="355.4" cy="40.0" r="1"/><circle cx="357.8" cy="40.0" r="1"/><circle cx="351.4" cy="40.8" r="1"/><circle cx="354.1" cy="41.3" r="1"/><circle cx="353.8" cy="42.9" r="1"/><circle cx="340.2" cy="41.6" r="1"/><circle cx="341.8" cy="43.5" r="1"/><circle cx="345.8" cy="41.9" r="1"/><circle cx="361.5" cy="41.3" r="1"/><circle cx="360.2" cy="43.2" r="1"/><circle cx="362.1" cy="44.8" r="1"/><circle cx="328.2" cy="45.6" r="1"/><circle cx="325.8" cy="46.7" r="1"/><circle cx="336.2" cy="46.4" r="1"/><circle cx="338.6" cy="48.0" r="1"/><circle cx="329.0" cy="48.8" r="1"/><circle cx="334.6" cy="48.8" r="1"/><circle cx="341.8" cy="48.8" r="1"/><circle cx="348.2" cy="48.3" r="1"/><circle cx="358.6" cy="48.3" r="1"/><circle cx="326.9" cy="54.9" r="1"/><circle cx="329.5" cy="51.2" r="1"/><circle cx="347.1" cy="52.5" r="1"/><circle cx="353.5" cy="51.7" r="1"/><circle cx="359.9" cy="52.5" r="1"/><circle cx="352.2" cy="56.5" r="1"/><circle cx="355.4" cy="55.7" r="1"/><circle cx="356.2" cy="57.3" r="1"/><circle cx="340.5" cy="59.2" r="1"/><circle cx="351.9" cy="60.5" r="1"/><circle cx="353.0" cy="61.1" r="1"/><circle cx="361.8" cy="62.4" r="1"/><circle cx="361.0" cy="63.5" r="1"/><circle cx="327.9" cy="65.6" r="1"/><circle cx="335.9" cy="66.9" r="1"/><circle cx="226.3" cy="88.2" r="1"/><circle cx="230.0" cy="90.3" r="1"/><circle cx="232.8" cy="92.5" r="1"/><circle cx="240.0" cy="87.0" r="1"/><circle cx="239.8" cy="89.8" r="1"/><circle cx="240.0" cy="93.0" r="1"/><circle cx="250.2" cy="89.0" r="1"/><circle cx="258.2" cy="86.5" r="1"/><circle cx="260.5" cy="85.3" r="1"/><circle cx="262.8" cy="88.5" r="1"/><circle cx="259.0" cy="89.2" r="1"/><circle cx="250.5" cy="95.2" r="1"/><circle cx="249.5" cy="95.5" r="1"/><circle cx="255.8" cy="95.0" r="1"/><circle cx="255.0" cy="96.8" r="1"/><circle cx="253.5" cy="98.0" r="1"/><circle cx="252.0" cy="98.5" r="1"/><circle cx="250.5" cy="99.2" r="1"/><circle cx="262.8" cy="97.0" r="1"/><circle cx="261.5" cy="98.2" r="1"/><circle cx="259.5" cy="99.0" r="1"/><circle cx="245.0" cy="97.5" r="1"/><circle cx="247.0" cy="98.0" r="1"/><circle cx="244.8" cy="99.2" r="1"/><circle cx="236.0" cy="97.5" r="1"/><circle cx="236.5" cy="98.5" r="1"/><circle cx="232.5" cy="98.0" r="1"/><circle cx="230.0" cy="98.0" r="1"/><circle cx="229.8" cy="99.8" r="1"/><circle cx="224.0" cy="97.5" r="1"/><circle cx="222.0" cy="98.5" r="1"/><circle cx="221.8" cy="99.8" r="1"/><circle cx="225.0" cy="100.5" r="1"/><circle cx="226.2" cy="100.3" r="1"/><circle cx="228.5" cy="101.0" r="1"/><circle cx="227.5" cy="103.0" r="1"/><circle cx="229.5" cy="105.0" r="1"/><circle cx="230.5" cy="104.5" r="1"/><circle cx="231.5" cy="102.0" r="1"/><circle cx="233.5" cy="101.5" r="1"/><circle cx="235.0" cy="102.5" r="1"/><circle cx="236.5" cy="101.5" r="1"/><circle cx="236.0" cy="104.5" r="1"/><circle cx="238.5" cy="102.0" r="1"/><circle cx="240.0" cy="101.0" r="1"/><circle cx="241.5" cy="100.5" r="1"/><circle cx="243.0" cy="101.0" r="1"/><circle cx="242.5" cy="103.0" r="1"/><circle cx="241.0" cy="104.5" r="1"/><circle cx="244.0" cy="105.0" r="1"/><circle cx="245.0" cy="102.0" r="1"/><circle cx="246.5" cy="101.5" r="1"/><circle cx="248.0" cy="102.0" r="1"/><circle cx="248.0" cy="103.5" r="1"/><circle cx="249.5" cy="104.5" r="1"/><circle cx="251.0" cy="103.0" r="1"/><circle cx="252.5" cy="102.0" r="1"/><circle cx="254.0" cy="101.5" r="1"/><circle cx="253.0" cy="104.5" r="1"/><circle cx="255.5" cy="105.5" r="1"/><circle cx="259.0" cy="103.5" r="1"/><circle cx="261.0" cy="102.0" r="1"/><circle cx="261.5" cy="105.5" r="1"/><circle cx="262.0" cy="106.5" r="1"/><circle cx="260.5" cy="107.0" r="1"/><circle cx="259.5" cy="106.0" r="1"/><circle cx="228.2" cy="102.3" r="1"/><circle cx="261.0" cy="109.3" r="1"/><circle cx="227.6" cy="109.4" r="1"/><circle cx="222.6" cy="109.3" r="1"/><circle cx="262.1" cy="112.4" r="1"/><circle cx="250.4" cy="106.7" r="1"/><circle cx="236.7" cy="105.5" r="1"/><circle cx="253.5" cy="109.4" r="1"/><circle cx="253.8" cy="107.5" r="1"/><circle cx="230.8" cy="111.8" r="1"/><circle cx="262.4" cy="112.3" r="1"/><circle cx="255.0" cy="111.9" r="1"/><circle cx="252.2" cy="106.3" r="1"/><circle cx="243.0" cy="107.7" r="1"/><circle cx="222.7" cy="102.5" r="1"/><circle cx="233.1" cy="106.7" r="1"/><circle cx="250.2" cy="114.0" r="1"/><circle cx="240.1" cy="113.6" r="1"/><circle cx="262.5" cy="114.0" r="1"/><circle cx="236.6" cy="106.2" r="1"/><circle cx="230.9" cy="105.9" r="1"/><circle cx="230.0" cy="110.1" r="1"/><circle cx="258.9" cy="112.1" r="1"/><circle cx="241.4" cy="110.3" r="1"/><circle cx="254.7" cy="104.0" r="1"/><circle cx="248.9" cy="113.1" r="1"/><circle cx="254.0" cy="111.2" r="1"/><circle cx="241.3" cy="105.6" r="1"/><circle cx="254.2" cy="107.5" r="1"/><circle cx="254.7" cy="114.4" r="1"/><circle cx="237.9" cy="108.2" r="1"/><circle cx="260.8" cy="110.9" r="1"/><circle cx="228.6" cy="104.8" r="1"/><circle cx="227.8" cy="113.0" r="1"/><circle cx="255.0" cy="105.1" r="1"/><circle cx="255.8" cy="114.6" r="1"/><circle cx="248.8" cy="107.7" r="1"/><circle cx="244.3" cy="104.9" r="1"/><circle cx="222.1" cy="114.4" r="1"/><circle cx="248.5" cy="109.3" r="1"/><circle cx="260.2" cy="108.5" r="1"/><circle cx="257.7" cy="112.0" r="1"/><circle cx="230.3" cy="106.6" r="1"/><circle cx="233.7" cy="106.5" r="1"/><circle cx="245.8" cy="106.7" r="1"/><circle cx="238.9" cy="104.9" r="1"/><circle cx="259.3" cy="107.7" r="1"/><circle cx="240.5" cy="109.8" r="1"/><circle cx="259.0" cy="108.4" r="1"/><circle cx="259.6" cy="109.1" r="1"/><circle cx="243.6" cy="109.3" r="1"/><circle cx="222.3" cy="108.6" r="1"/><circle cx="229.1" cy="101.3" r="1"/><circle cx="254.7" cy="105.5" r="1"/><circle cx="241.1" cy="110.9" r="1"/><circle cx="244.6" cy="107.4" r="1"/><circle cx="243.0" cy="109.5" r="1"/><circle cx="254.0" cy="104.5" r="1"/><circle cx="244.8" cy="106.5" r="1"/><circle cx="233.0" cy="111.4" r="1"/><circle cx="242.6" cy="109.6" r="1"/><circle cx="253.0" cy="113.1" r="1"/><circle cx="239.9" cy="110.0" r="1"/><circle cx="242.5" cy="109.2" r="1"/><circle cx="250.2" cy="108.7" r="1"/><circle cx="243.6" cy="108.9" r="1"/><circle cx="260.6" cy="110.7" r="1"/><circle cx="257.9" cy="113.7" r="1"/><circle cx="232.3" cy="109.6" r="1"/><circle cx="260.6" cy="112.1" r="1"/><circle cx="227.2" cy="104.7" r="1"/><circle cx="239.8" cy="103.8" r="1"/><circle cx="231.5" cy="103.8" r="1"/><circle cx="249.3" cy="111.5" r="1"/><circle cx="258.7" cy="105.3" r="1"/><circle cx="251.2" cy="110.4" r="1"/><circle cx="227.4" cy="112.7" r="1"/><circle cx="261.7" cy="106.2" r="1"/><circle cx="261.0" cy="108.2" r="1"/><circle cx="241.7" cy="115.0" r="1"/><circle cx="256.0" cy="105.4" r="1"/><circle cx="239.4" cy="109.2" r="1"/><circle cx="235.6" cy="105.9" r="1"/><circle cx="234.7" cy="110.9" r="1"/><circle cx="222.3" cy="109.5" r="1"/><circle cx="239.8" cy="102.1" r="1"/><circle cx="235.3" cy="110.1" r="1"/><circle cx="242.8" cy="103.6" r="1"/><circle cx="262.4" cy="111.6" r="1"/><circle cx="261.8" cy="104.4" r="1"/><circle cx="232.5" cy="102.9" r="1"/><circle cx="253.8" cy="106.8" r="1"/><circle cx="226.9" cy="108.4" r="1"/><circle cx="259.3" cy="111.9" r="1"/><circle cx="232.2" cy="105.2" r="1"/><circle cx="259.6" cy="109.7" r="1"/><circle cx="250.6" cy="104.1" r="1"/><circle cx="223.9" cy="110.6" r="1"/><circle cx="239.2" cy="103.8" r="1"/><circle cx="260.4" cy="110.2" r="1"/><circle cx="254.8" cy="104.0" r="1"/><circle cx="257.0" cy="103.6" r="1"/><circle cx="257.3" cy="108.7" r="1"/><circle cx="235.6" cy="109.5" r="1"/><circle cx="260.0" cy="106.8" r="1"/><circle cx="260.0" cy="106.8" r="1"/><circle cx="260.3" cy="101.4" r="1"/><circle cx="260.1" cy="100.7" r="1"/><circle cx="260.2" cy="104.1" r="1"/><circle cx="260.6" cy="109.9" r="1"/><circle cx="260.5" cy="106.5" r="1"/><circle cx="260.1" cy="104.5" r="1"/><circle cx="259.6" cy="103.3" r="1"/><circle cx="259.6" cy="109.5" r="1"/><circle cx="261.4" cy="102.5" r="1"/><circle cx="261.2" cy="112.2" r="1"/><circle cx="259.9" cy="110.6" r="1"/><circle cx="261.0" cy="106.4" r="1"/><circle cx="262.4" cy="105.1" r="1"/><circle cx="227.4" cy="122.2" r="1"/><circle cx="236.2" cy="119.3" r="1"/><circle cx="234.6" cy="117.4" r="1"/><circle cx="252.2" cy="118.7" r="1"/><circle cx="253.8" cy="117.4" r="1"/><circle cx="259.4" cy="116.6" r="1"/><circle cx="245.0" cy="115.5" r="1"/><circle cx="424.1" cy="11.6" r="1"/><circle cx="416.4" cy="9.1" r="1"/><circle cx="439.3" cy="12.7" r="1"/><circle cx="419.3" cy="11.1" r="1"/><circle cx="416.6" cy="14.1" r="1"/><circle cx="403.6" cy="13.6" r="1"/><circle cx="435.0" cy="13.3" r="1"/><circle cx="404.3" cy="14.3" r="1"/><circle cx="439.8" cy="14.9" r="1"/><circle cx="413.5" cy="11.6" r="1"/><circle cx="411.7" cy="12.8" r="1"/><circle cx="407.7" cy="15.0" r="1"/><circle cx="421.2" cy="13.0" r="1"/><circle cx="445.9" cy="17.4" r="1"/><circle cx="426.0" cy="13.4" r="1"/><circle cx="414.8" cy="17.5" r="1"/><circle cx="417.0" cy="14.9" r="1"/><circle cx="422.6" cy="13.3" r="1"/><circle cx="423.9" cy="13.9" r="1"/><circle cx="400.5" cy="15.1" r="1"/><circle cx="412.7" cy="14.7" r="1"/><circle cx="402.3" cy="14.2" r="1"/><circle cx="401.4" cy="12.9" r="1"/><circle cx="427.8" cy="14.4" r="1"/><circle cx="425.1" cy="13.3" r="1"/><circle cx="433.9" cy="11.0" r="1"/><circle cx="441.5" cy="12.2" r="1"/><circle cx="446.5" cy="14.2" r="1"/><circle cx="407.3" cy="12.9" r="1"/><circle cx="402.4" cy="11.0" r="1"/><circle cx="439.5" cy="15.0" r="1"/><circle cx="434.7" cy="11.9" r="1"/><circle cx="438.4" cy="14.5" r="1"/><circle cx="424.0" cy="14.8" r="1"/><circle cx="439.5" cy="14.3" r="1"/><circle cx="427.7" cy="10.5" r="1"/><circle cx="442.2" cy="12.3" r="1"/><circle cx="411.1" cy="11.1" r="1"/><circle cx="401.8" cy="14.3" r="1"/><circle cx="405.2" cy="14.4" r="1"/><circle cx="439.5" cy="11.2" r="1"/><circle cx="429.7" cy="12.5" r="1"/><circle cx="432.2" cy="13.2" r="1"/><circle cx="437.7" cy="13.3" r="1"/><circle cx="435.4" cy="11.3" r="1"/><circle cx="431.2" cy="13.3" r="1"/><circle cx="403.4" cy="13.2" r="1"/><circle cx="403.8" cy="12.1" r="1"/><circle cx="412.8" cy="13.2" r="1"/><circle cx="435.0" cy="12.2" r="1"/><circle cx="446.1" cy="11.7" r="1"/><circle cx="422.8" cy="13.4" r="1"/><circle cx="432.4" cy="13.5" r="1"/><circle cx="430.4" cy="11.1" r="1"/><circle cx="403.9" cy="14.0" r="1"/><circle cx="435.2" cy="14.3" r="1"/><circle cx="414.6" cy="13.1" r="1"/><circle cx="403.1" cy="13.2" r="1"/><circle cx="412.9" cy="12.1" r="1"/><circle cx="432.0" cy="11.1" r="1"/><circle cx="413.9" cy="11.5" r="1"/><circle cx="422.2" cy="13.1" r="1"/><circle cx="405.9" cy="14.1" r="1"/><circle cx="446.2" cy="12.6" r="1"/><circle cx="444.2" cy="15.1" r="1"/><circle cx="438.8" cy="13.5" r="1"/><circle cx="445.7" cy="12.1" r="1"/><circle cx="410.1" cy="13.7" r="1"/><circle cx="444.6" cy="13.8" r="1"/><circle cx="406.9" cy="15.3" r="1"/><circle cx="424.9" cy="14.1" r="1"/><circle cx="438.8" cy="13.1" r="1"/><circle cx="424.2" cy="15.2" r="1"/><circle cx="411.2" cy="11.7" r="1"/><circle cx="442.4" cy="12.9" r="1"/><circle cx="400.5" cy="13.3" r="1"/><circle cx="423.4" cy="12.0" r="1"/><circle cx="406.9" cy="13.7" r="1"/><circle cx="416.4" cy="12.1" r="1"/><circle cx="400.4" cy="16.1" r="1"/><circle cx="435.5" cy="13.7" r="1"/><circle cx="443.7" cy="12.6" r="1"/><circle cx="433.7" cy="14.4" r="1"/><circle cx="417.8" cy="12.5" r="1"/><circle cx="418.7" cy="15.4" r="1"/><circle cx="417.2" cy="13.3" r="1"/><circle cx="420.4" cy="13.2" r="1"/><circle cx="405.1" cy="13.8" r="1"/><circle cx="439.4" cy="12.5" r="1"/><circle cx="412.0" cy="17.0" r="1"/><circle cx="412.8" cy="12.3" r="1"/><circle cx="417.8" cy="13.2" r="1"/><circle cx="445.1" cy="15.5" r="1"/><circle cx="429.9" cy="11.4" r="1"/><circle cx="443.1" cy="15.2" r="1"/><circle cx="434.0" cy="12.6" r="1"/><circle cx="402.6" cy="13.1" r="1"/><circle cx="435.6" cy="11.6" r="1"/><circle cx="430.5" cy="13.2" r="1"/><circle cx="443.8" cy="13.8" r="1"/><circle cx="406.3" cy="11.9" r="1"/><circle cx="414.3" cy="13.6" r="1"/><circle cx="435.0" cy="14.5" r="1"/><circle cx="431.1" cy="13.1" r="1"/><circle cx="414.4" cy="11.8" r="1"/><circle cx="408.1" cy="12.7" r="1"/><circle cx="407.9" cy="14.2" r="1"/><circle cx="423.6" cy="16.7" r="1"/><circle cx="410.6" cy="17.6" r="1"/><circle cx="421.4" cy="10.3" r="1"/><circle cx="406.8" cy="13.5" r="1"/><circle cx="416.3" cy="14.0" r="1"/><circle cx="404.6" cy="13.4" r="1"/><circle cx="427.0" cy="14.5" r="1"/><circle cx="441.9" cy="13.3" r="1"/><circle cx="419.7" cy="11.6" r="1"/><circle cx="424.9" cy="12.3" r="1"/><circle cx="403.2" cy="14.3" r="1"/><circle cx="413.3" cy="14.1" r="1"/><circle cx="423.9" cy="13.1" r="1"/><circle cx="429.8" cy="14.0" r="1"/><circle cx="413.0" cy="12.5" r="1"/><circle cx="412.0" cy="11.9" r="1"/><circle cx="445.0" cy="14.3" r="1"/><circle cx="440.1" cy="13.5" r="1"/><circle cx="401.8" cy="13.1" r="1"/><circle cx="433.6" cy="14.7" r="1"/><circle cx="427.8" cy="12.2" r="1"/><circle cx="400.3" cy="10.5" r="1"/><circle cx="439.0" cy="15.6" r="1"/><circle cx="440.4" cy="14.5" r="1"/><circle cx="405.4" cy="13.1" r="1"/><circle cx="407.5" cy="10.9" r="1"/><circle cx="444.5" cy="13.0" r="1"/><circle cx="434.1" cy="11.7" r="1"/><circle cx="421.7" cy="11.1" r="1"/><circle cx="426.2" cy="16.0" r="1"/><circle cx="411.2" cy="14.0" r="1"/><circle cx="443.4" cy="12.5" r="1"/><circle cx="406.3" cy="12.2" r="1"/><circle cx="412.1" cy="11.7" r="1"/><circle cx="405.6" cy="11.4" r="1"/><circle cx="403.6" cy="11.2" r="1"/><circle cx="418.5" cy="13.0" r="1"/><circle cx="410.8" cy="13.1" r="1"/><circle cx="414.4" cy="13.2" r="1"/><circle cx="421.9" cy="15.5" r="1"/><circle cx="441.7" cy="12.7" r="1"/><circle cx="422.6" cy="13.4" r="1"/><circle cx="445.4" cy="14.5" r="1"/><circle cx="433.3" cy="13.2" r="1"/><circle cx="423.7" cy="13.6" r="1"/><circle cx="431.9" cy="12.2" r="1"/><circle cx="431.6" cy="13.9" r="1"/><circle cx="443.7" cy="13.4" r="1"/><circle cx="416.2" cy="13.7" r="1"/><circle cx="420.0" cy="12.9" r="1"/><circle cx="437.7" cy="12.3" r="1"/><circle cx="435.0" cy="12.2" r="1"/><circle cx="445.8" cy="13.3" r="1"/><circle cx="414.9" cy="13.8" r="1"/><circle cx="410.7" cy="12.3" r="1"/><circle cx="436.0" cy="12.2" r="1"/><circle cx="423.6" cy="17.1" r="1"/><circle cx="409.1" cy="13.6" r="1"/><circle cx="431.5" cy="14.9" r="1"/><circle cx="444.8" cy="14.3" r="1"/><circle cx="410.3" cy="14.6" r="1"/><circle cx="446.0" cy="13.6" r="1"/><circle cx="403.1" cy="13.7" r="1"/><circle cx="418.7" cy="16.0" r="1"/><circle cx="434.7" cy="11.3" r="1"/><circle cx="447.1" cy="14.6" r="1"/><circle cx="409.0" cy="12.7" r="1"/><circle cx="444.2" cy="13.3" r="1"/><circle cx="431.5" cy="12.9" r="1"/><circle cx="418.1" cy="12.3" r="1"/><circle cx="408.2" cy="14.3" r="1"/><circle cx="400.4" cy="13.0" r="1"/><circle cx="445.1" cy="14.8" r="1"/><circle cx="406.1" cy="14.4" r="1"/><circle cx="417.0" cy="13.1" r="1"/><circle cx="438.8" cy="14.0" r="1"/><circle cx="402.6" cy="11.8" r="1"/><circle cx="422.5" cy="10.8" r="1"/><circle cx="409.4" cy="15.9" r="1"/><circle cx="417.4" cy="13.6" r="1"/><circle cx="419.6" cy="13.1" r="1"/><circle cx="438.4" cy="13.3" r="1"/><circle cx="401.9" cy="12.8" r="1"/><circle cx="403.2" cy="14.4" r="1"/><circle cx="435.3" cy="12.7" r="1"/><circle cx="442.4" cy="12.6" r="1"/><circle cx="445.2" cy="14.4" r="1"/><circle cx="429.2" cy="13.1" r="1"/><circle cx="415.1" cy="15.8" r="1"/><circle cx="413.2" cy="16.0" r="1"/><circle cx="443.3" cy="13.4" r="1"/><circle cx="430.0" cy="13.6" r="1"/><circle cx="411.3" cy="13.2" r="1"/><circle cx="500.9" cy="62.7" r="1"/><circle cx="510.7" cy="63.2" r="1"/><circle cx="513.7" cy="61.6" r="1"/><circle cx="512.1" cy="65.1" r="1"/><circle cx="524.9" cy="62.1" r="1"/><circle cx="531.0" cy="64.5" r="1"/><circle cx="531.8" cy="65.9" r="1"/><circle cx="494.7" cy="69.1" r="1"/><circle cx="502.2" cy="71.2" r="1"/><circle cx="501.1" cy="72.8" r="1"/><circle cx="519.8" cy="69.9" r="1"/><circle cx="520.6" cy="70.9" r="1"/><circle cx="524.1" cy="68.0" r="1"/><circle cx="527.8" cy="68.8" r="1"/><circle cx="539.0" cy="68.8" r="1"/><circle cx="537.9" cy="70.7" r="1"/><circle cx="533.7" cy="72.8" r="1"/><circle cx="522.5" cy="73.6" r="1"/><circle cx="496.3" cy="76.8" r="1"/><circle cx="515.5" cy="78.4" r="1"/><circle cx="519.0" cy="77.1" r="1"/><circle cx="528.1" cy="76.5" r="1"/><circle cx="540.6" cy="78.9" r="1"/><circle cx="539.0" cy="80.8" r="1"/><circle cx="495.0" cy="84.3" r="1"/><circle cx="500.9" cy="84.3" r="1"/><circle cx="530.2" cy="82.4" r="1"/><circle cx="532.9" cy="82.9" r="1"/><circle cx="526.5" cy="84.8" r="1"/><circle cx="528.9" cy="85.3" r="1"/><circle cx="509.4" cy="86.9" r="1"/><circle cx="519.8" cy="88.0" r="1"/><circle cx="538.5" cy="88.5" r="1"/><circle cx="507.0" cy="89.6" r="1"/><circle cx="519.0" cy="92.8" r="1"/><circle cx="539.8" cy="94.4" r="1"/><circle cx="505.4" cy="96.0" r="1"/><circle cx="501.7" cy="96.5" r="1"/><circle cx="494.7" cy="97.6" r="1"/><circle cx="529.4" cy="98.1" r="1"/><circle cx="539.0" cy="101.1" r="1"/><circle cx="500.3" cy="103.5" r="1"/><circle cx="515.5" cy="104.5" r="1"/><circle cx="505.4" cy="108.8" r="1"/><circle cx="501.7" cy="112.8" r="1"/><circle cx="519.8" cy="113.3" r="1"/><circle cx="529.9" cy="114.4" r="1"/><circle cx="497.4" cy="117.6" r="1"/><circle cx="509.1" cy="119.7" r="1"/><circle cx="524.9" cy="122.4" r="1"/><circle cx="44.9" cy="163.9" r="1"/><circle cx="44.9" cy="165.8" r="1"/><circle cx="47.4" cy="172.5" r="1"/><circle cx="46.9" cy="174.1" r="1"/><circle cx="46.7" cy="175.7" r="1"/><circle cx="46.9" cy="177.3" r="1"/><circle cx="47.0" cy="178.9" r="1"/><circle cx="47.4" cy="181.0" r="1"/><circle cx="46.7" cy="183.1" r="1"/><circle cx="47.3" cy="185.0" r="1"/><circle cx="47.2" cy="187.1" r="1"/><circle cx="49.7" cy="172.5" r="1"/><circle cx="49.7" cy="174.3" r="1"/><circle cx="49.6" cy="176.0" r="1"/><circle cx="61.2" cy="155.9" r="1"/><circle cx="66.0" cy="158.3" r="1"/><circle cx="71.3" cy="159.1" r="1"/><circle cx="71.3" cy="160.7" r="1"/><circle cx="71.3" cy="162.3" r="1"/><circle cx="71.3" cy="164.2" r="1"/><circle cx="68.5" cy="169.8" r="1"/><circle cx="68.5" cy="172.5" r="1"/><circle cx="68.9" cy="174.6" r="1"/><circle cx="68.6" cy="176.7" r="1"/><circle cx="68.4" cy="178.9" r="1"/><circle cx="68.4" cy="181.0" r="1"/><circle cx="71.9" cy="169.3" r="1"/><circle cx="71.9" cy="171.4" r="1"/><circle cx="71.9" cy="175.4" r="1"/><circle cx="81.9" cy="178.3" r="1"/><circle cx="77.4" cy="174.0" r="1"/><circle cx="76.2" cy="178.7" r="1"/><circle cx="80.7" cy="175.2" r="1"/><circle cx="77.2" cy="177.2" r="1"/><circle cx="80.0" cy="177.5" r="1"/><circle cx="81.0" cy="178.1" r="1"/><circle cx="80.4" cy="172.8" r="1"/><circle cx="81.6" cy="173.3" r="1"/><circle cx="79.6" cy="175.2" r="1"/><circle cx="80.9" cy="173.1" r="1"/><circle cx="77.3" cy="175.6" r="1"/><circle cx="76.6" cy="182.1" r="1"/><circle cx="79.7" cy="174.8" r="1"/><circle cx="78.4" cy="181.5" r="1"/><circle cx="79.2" cy="174.3" r="1"/><circle cx="81.4" cy="176.2" r="1"/><circle cx="82.7" cy="171.3" r="1"/><circle cx="79.0" cy="179.5" r="1"/><circle cx="81.6" cy="178.0" r="1"/><circle cx="75.8" cy="177.0" r="1"/><circle cx="76.4" cy="175.6" r="1"/><circle cx="82.6" cy="174.8" r="1"/><circle cx="82.3" cy="173.5" r="1"/><circle cx="81.8" cy="174.4" r="1"/><circle cx="77.4" cy="180.4" r="1"/><circle cx="82.4" cy="171.5" r="1"/><circle cx="79.9" cy="177.1" r="1"/><circle cx="77.1" cy="176.9" r="1"/><circle cx="76.5" cy="175.6" r="1"/><circle cx="77.4" cy="178.8" r="1"/><circle cx="80.3" cy="173.5" r="1"/><circle cx="75.6" cy="177.4" r="1"/><circle cx="80.5" cy="173.2" r="1"/><circle cx="77.8" cy="174.9" r="1"/><circle cx="81.3" cy="175.5" r="1"/><circle cx="76.0" cy="175.0" r="1"/><circle cx="78.4" cy="177.6" r="1"/><circle cx="80.2" cy="172.6" r="1"/><circle cx="76.7" cy="180.2" r="1"/><circle cx="78.5" cy="175.2" r="1"/><circle cx="77.7" cy="181.8" r="1"/><circle cx="77.8" cy="178.2" r="1"/><circle cx="78.1" cy="176.6" r="1"/><circle cx="81.8" cy="178.5" r="1"/><circle cx="78.2" cy="174.6" r="1"/><circle cx="80.8" cy="173.1" r="1"/><circle cx="75.5" cy="183.2" r="1"/><circle cx="78.6" cy="179.8" r="1"/><circle cx="78.5" cy="180.5" r="1"/><circle cx="78.9" cy="173.9" r="1"/><circle cx="75.6" cy="179.6" r="1"/><circle cx="80.2" cy="179.3" r="1"/><circle cx="76.1" cy="179.9" r="1"/><circle cx="78.2" cy="177.3" r="1"/><circle cx="76.6" cy="176.4" r="1"/><circle cx="79.3" cy="180.1" r="1"/><circle cx="76.3" cy="178.6" r="1"/><circle cx="81.4" cy="178.7" r="1"/><circle cx="76.9" cy="174.7" r="1"/><circle cx="82.4" cy="177.8" r="1"/><circle cx="79.0" cy="172.9" r="1"/><circle cx="84.4" cy="161.2" r="1"/><circle cx="84.4" cy="162.4" r="1"/><circle cx="84.4" cy="163.6" r="1"/><circle cx="84.4" cy="164.8" r="1"/><circle cx="81.6" cy="165.6" r="1"/><circle cx="81.6" cy="168.0" r="1"/><circle cx="84.0" cy="164.9" r="1"/><circle cx="86.4" cy="166.4" r="1"/><circle cx="86.4" cy="168.0" r="1"/><circle cx="84.4" cy="170.0" r="1"/><circle cx="82.6" cy="169.2" r="1"/><circle cx="92.4" cy="160.7" r="1"/><circle cx="92.4" cy="162.9" r="1"/><circle cx="92.4" cy="165.0" r="1"/><circle cx="92.4" cy="167.1" r="1"/><circle cx="94.8" cy="169.0" r="1"/><circle cx="94.8" cy="170.9" r="1"/><circle cx="94.8" cy="173.0" r="1"/><circle cx="94.8" cy="176.7" r="1"/><circle cx="104.4" cy="163.9" r="1"/><circle cx="104.4" cy="165.8" r="1"/><circle cx="104.4" cy="167.7" r="1"/><circle cx="103.3" cy="169.8" r="1"/><circle cx="109.2" cy="169.0" r="1"/><circle cx="109.2" cy="170.9" r="1"/><circle cx="109.2" cy="172.5" r="1"/><circle cx="109.2" cy="174.1" r="1"/><circle cx="111.3" cy="165.8" r="1"/><circle cx="111.3" cy="167.7" r="1"/><circle cx="111.3" cy="169.3" r="1"/><circle cx="111.3" cy="171.4" r="1"/><circle cx="117.7" cy="179.4" r="1"/><circle cx="117.7" cy="181.5" r="1"/><circle cx="117.7" cy="183.4" r="1"/><circle cx="111.3" cy="165.8" r="1"/><circle cx="111.3" cy="167.7" r="1"/><circle cx="111.3" cy="169.8" r="1"/><circle cx="111.3" cy="171.9" r="1"/><circle cx="118.5" cy="178.6" r="1"/><circle cx="118.5" cy="180.2" r="1"/><circle cx="118.5" cy="181.8" r="1"/><circle cx="118.5" cy="183.4" r="1"/><circle cx="149.7" cy="178.6" r="1"/><circle cx="149.7" cy="180.2" r="1"/><circle cx="149.7" cy="181.8" r="1"/><circle cx="149.7" cy="183.4" r="1"/><circle cx="144.4" cy="182.1" r="1"/><circle cx="144.4" cy="184.2" r="1"/><circle cx="144.4" cy="186.3" r="1"/><circle cx="145.2" cy="185.8" r="1"/><circle cx="145.2" cy="186.3" r="1"/><circle cx="142.8" cy="186.9" r="1"/><circle cx="145.2" cy="187.4" r="1"/><circle cx="145.2" cy="188.0" r="1"/><circle cx="142.8" cy="188.5" r="1"/><circle cx="145.2" cy="189.2" r="1"/><circle cx="145.2" cy="189.6" r="1"/><circle cx="141.5" cy="190.3" r="1"/><circle cx="141.5" cy="190.8" r="1"/><circle cx="142.8" cy="191.4" r="1"/><circle cx="144.1" cy="191.9" r="1"/><circle cx="145.2" cy="192.5" r="1"/><circle cx="144.1" cy="193.0" r="1"/><circle cx="141.5" cy="193.6" r="1"/><circle cx="145.2" cy="194.1" r="1"/><circle cx="141.5" cy="194.8" r="1"/><circle cx="141.5" cy="195.2" r="1"/><circle cx="142.8" cy="195.9" r="1"/><circle cx="141.5" cy="196.4" r="1"/><circle cx="144.1" cy="197.0" r="1"/><circle cx="141.5" cy="197.5" r="1"/><circle cx="144.9" cy="199.4" r="1"/><circle cx="144.9" cy="201.8" r="1"/><circle cx="149.5" cy="193.3" r="1"/><circle cx="149.5" cy="194.9" r="1"/><circle cx="149.5" cy="196.5" r="1"/><circle cx="149.5" cy="199.7" r="1"/><circle cx="149.5" cy="201.3" r="1"/><circle cx="149.5" cy="202.9" r="1"/><circle cx="150.3" cy="215.4" r="1"/><circle cx="150.3" cy="217.0" r="1"/><circle cx="150.3" cy="218.6" r="1"/><circle cx="150.3" cy="220.2" r="1"/><circle cx="150.3" cy="221.8" r="1"/><circle cx="150.3" cy="223.4" r="1"/><circle cx="150.3" cy="227.9" r="1"/><circle cx="150.3" cy="232.5" r="1"/><circle cx="157.2" cy="223.1" r="1"/><circle cx="157.2" cy="232.5" r="1"/><circle cx="161.5" cy="217.0" r="1"/><circle cx="161.5" cy="220.5" r="1"/><circle cx="161.5" cy="224.2" r="1"/><circle cx="161.5" cy="226.3" r="1"/><circle cx="161.5" cy="228.2" r="1"/><circle cx="161.5" cy="230.1" r="1"/><circle cx="161.5" cy="232.5" r="1"/><circle cx="184.9" cy="205.0" r="1"/><circle cx="184.9" cy="207.1" r="1"/><circle cx="184.9" cy="209.3" r="1"/><circle cx="184.9" cy="211.4" r="1"/><circle cx="184.9" cy="213.8" r="1"/><circle cx="184.9" cy="218.9" r="1"/><circle cx="184.9" cy="223.9" r="1"/><circle cx="161.5" cy="243.7" r="1"/><circle cx="157.2" cy="238.6" r="1"/><circle cx="157.2" cy="240.2" r="1"/><circle cx="157.2" cy="245.0" r="1"/><circle cx="157.2" cy="246.1" r="1"/><circle cx="157.2" cy="254.6" r="1"/><circle cx="157.2" cy="262.1" r="1"/><circle cx="157.2" cy="270.1" r="1"/><circle cx="243.3" cy="183.7" r="1"/><circle cx="243.3" cy="185.3" r="1"/><circle cx="243.3" cy="186.9" r="1"/><circle cx="243.3" cy="188.7" r="1"/><circle cx="245.2" cy="191.4" r="1"/><circle cx="248.4" cy="193.0" r="1"/><circle cx="243.3" cy="194.6" r="1"/><circle cx="248.4" cy="181.8" r="1"/><circle cx="248.4" cy="183.4" r="1"/><circle cx="253.7" cy="174.1" r="1"/><circle cx="253.7" cy="176.2" r="1"/><circle cx="253.7" cy="178.3" r="1"/><circle cx="253.7" cy="180.5" r="1"/><circle cx="255.6" cy="183.3" r="1"/><circle cx="257.2" cy="177.6" r="1"/><circle cx="257.7" cy="176.3" r="1"/><circle cx="258.3" cy="179.3" r="1"/><circle cx="256.4" cy="181.1" r="1"/><circle cx="256.6" cy="175.5" r="1"/><circle cx="257.5" cy="174.3" r="1"/><circle cx="257.8" cy="176.2" r="1"/><circle cx="257.2" cy="183.2" r="1"/><circle cx="257.1" cy="180.2" r="1"/><circle cx="256.2" cy="173.8" r="1"/><circle cx="255.4" cy="175.2" r="1"/><circle cx="257.2" cy="177.9" r="1"/><circle cx="256.8" cy="182.4" r="1"/><circle cx="262.0" cy="170.6" r="1"/><circle cx="262.0" cy="178.6" r="1"/><circle cx="265.5" cy="174.1" r="1"/><circle cx="265.5" cy="176.2" r="1"/><circle cx="265.5" cy="178.6" r="1"/><circle cx="265.5" cy="181.0" r="1"/><circle cx="267.6" cy="169.3" r="1"/><circle cx="267.6" cy="171.4" r="1"/><circle cx="267.6" cy="174.1" r="1"/><circle cx="267.3" cy="186.3" r="1"/><circle cx="270.5" cy="185.8" r="1"/><circle cx="277.7" cy="191.4" r="1"/><circle cx="272.1" cy="174.9" r="1"/><circle cx="272.1" cy="177.0" r="1"/><circle cx="272.1" cy="181.8" r="1"/><circle cx="271.9" cy="174.9" r="1"/><circle cx="271.9" cy="177.0" r="1"/><circle cx="271.9" cy="181.8" r="1"/><circle cx="278.8" cy="184.3" r="1"/><circle cx="281.6" cy="184.6" r="1"/><circle cx="289.7" cy="159.8" r="1"/><circle cx="290.8" cy="160.8" r="1"/><circle cx="288.9" cy="159.4" r="1"/><circle cx="290.1" cy="166.8" r="1"/><circle cx="290.5" cy="162.3" r="1"/><circle cx="289.2" cy="158.6" r="1"/><circle cx="290.1" cy="163.8" r="1"/><circle cx="289.4" cy="164.6" r="1"/><circle cx="289.6" cy="167.4" r="1"/><circle cx="290.3" cy="160.9" r="1"/><circle cx="288.8" cy="172.3" r="1"/><circle cx="290.3" cy="172.8" r="1"/><circle cx="289.2" cy="174.2" r="1"/><circle cx="290.6" cy="174.4" r="1"/><circle cx="285.2" cy="174.6" r="1"/><circle cx="285.2" cy="188.2" r="1"/><circle cx="290.0" cy="155.9" r="1"/><circle cx="288.9" cy="157.8" r="1"/><circle cx="289.6" cy="159.1" r="1"/><circle cx="289.4" cy="160.4" r="1"/><circle cx="289.2" cy="161.6" r="1"/><circle cx="289.0" cy="162.9" r="1"/><circle cx="289.9" cy="164.2" r="1"/><circle cx="288.9" cy="165.5" r="1"/><circle cx="289.6" cy="166.8" r="1"/><circle cx="290.1" cy="168.0" r="1"/><circle cx="289.1" cy="169.3" r="1"/><circle cx="289.1" cy="171.4" r="1"/><circle cx="289.7" cy="173.5" r="1"/><circle cx="289.5" cy="175.4" r="1"/><circle cx="289.7" cy="177.8" r="1"/><circle cx="290.5" cy="159.4" r="1"/><circle cx="289.8" cy="161.0" r="1"/><circle cx="290.0" cy="162.6" r="1"/><circle cx="290.0" cy="164.2" r="1"/><circle cx="289.7" cy="165.8" r="1"/><circle cx="290.5" cy="167.4" r="1"/><circle cx="303.1" cy="169.8" r="1"/><circle cx="308.9" cy="167.1" r="1"/><circle cx="308.9" cy="168.7" r="1"/><circle cx="315.6" cy="167.4" r="1"/><circle cx="315.6" cy="174.3" r="1"/><circle cx="321.5" cy="162.9" r="1"/><circle cx="321.5" cy="165.0" r="1"/><circle cx="321.5" cy="167.4" r="1"/><circle cx="321.5" cy="169.3" r="1"/><circle cx="321.5" cy="171.4" r="1"/><circle cx="323.2" cy="169.0" r="1"/><circle cx="323.5" cy="171.4" r="1"/><circle cx="323.2" cy="173.8" r="1"/><circle cx="323.0" cy="176.2" r="1"/><circle cx="322.9" cy="178.6" r="1"/><circle cx="323.0" cy="182.1" r="1"/><circle cx="330.5" cy="164.5" r="1"/><circle cx="330.7" cy="166.6" r="1"/><circle cx="331.0" cy="169.0" r="1"/><circle cx="330.9" cy="172.2" r="1"/><circle cx="331.0" cy="174.6" r="1"/><circle cx="330.9" cy="177.0" r="1"/><circle cx="334.6" cy="164.5" r="1"/><circle cx="334.9" cy="166.6" r="1"/><circle cx="334.7" cy="169.8" r="1"/><circle cx="335.1" cy="172.2" r="1"/><circle cx="334.8" cy="174.6" r="1"/><circle cx="334.6" cy="177.0" r="1"/><circle cx="334.9" cy="179.4" r="1"/><circle cx="335.2" cy="181.8" r="1"/><circle cx="334.5" cy="185.0" r="1"/><circle cx="333.0" cy="173.0" r="1"/><circle cx="332.4" cy="175.4" r="1"/><circle cx="332.6" cy="179.4" r="1"/><circle cx="341.7" cy="175.1" r="1"/><circle cx="342.3" cy="177.0" r="1"/><circle cx="342.6" cy="178.9" r="1"/><circle cx="342.3" cy="181.0" r="1"/><circle cx="341.8" cy="183.1" r="1"/><circle cx="342.5" cy="185.0" r="1"/><circle cx="341.8" cy="187.4" r="1"/><circle cx="341.7" cy="189.5" r="1"/><circle cx="347.1" cy="183.1" r="1"/><circle cx="353.2" cy="193.0" r="1"/><circle cx="357.2" cy="193.0" r="1"/><circle cx="243.4" cy="185.8" r="1"/><circle cx="243.4" cy="187.9" r="1"/><circle cx="243.4" cy="189.8" r="1"/><circle cx="245.0" cy="191.4" r="1"/><circle cx="243.4" cy="194.9" r="1"/><circle cx="248.5" cy="193.3" r="1"/><circle cx="267.4" cy="186.6" r="1"/><circle cx="270.6" cy="185.8" r="1"/><circle cx="278.6" cy="186.9" r="1"/><circle cx="278.6" cy="189.0" r="1"/><circle cx="278.6" cy="191.4" r="1"/><circle cx="278.6" cy="193.8" r="1"/><circle cx="278.6" cy="196.2" r="1"/><circle cx="278.6" cy="199.1" r="1"/><circle cx="281.8" cy="185.3" r="1"/><circle cx="281.8" cy="194.6" r="1"/><circle cx="281.8" cy="201.0" r="1"/><circle cx="281.8" cy="206.1" r="1"/><circle cx="281.8" cy="207.7" r="1"/><circle cx="281.8" cy="209.3" r="1"/><circle cx="281.8" cy="210.9" r="1"/><circle cx="281.8" cy="212.2" r="1"/><circle cx="281.8" cy="215.7" r="1"/><circle cx="284.7" cy="188.5" r="1"/><circle cx="222.6" cy="213.3" r="1"/><circle cx="222.6" cy="217.0" r="1"/><circle cx="222.6" cy="221.5" r="1"/><circle cx="222.6" cy="224.7" r="1"/><circle cx="222.6" cy="232.2" r="1"/><circle cx="225.0" cy="234.3" r="1"/><circle cx="237.8" cy="218.3" r="1"/><circle cx="237.8" cy="231.1" r="1"/><circle cx="237.8" cy="233.8" r="1"/><circle cx="223.4" cy="225.3" r="1"/><circle cx="223.4" cy="232.2" r="1"/><circle cx="225.5" cy="234.6" r="1"/><circle cx="223.4" cy="239.7" r="1"/><circle cx="223.4" cy="245.0" r="1"/><circle cx="225.5" cy="249.0" r="1"/><circle cx="224.2" cy="250.3" r="1"/><circle cx="223.4" cy="251.4" r="1"/><circle cx="225.5" cy="267.9" r="1"/><circle cx="225.0" cy="270.1" r="1"/><circle cx="237.8" cy="231.1" r="1"/><circle cx="237.8" cy="232.7" r="1"/><circle cx="237.8" cy="234.3" r="1"/><circle cx="237.8" cy="235.9" r="1"/><circle cx="237.8" cy="240.2" r="1"/><circle cx="237.8" cy="241.8" r="1"/><circle cx="237.8" cy="243.4" r="1"/><circle cx="237.8" cy="247.1" r="1"/><circle cx="243.4" cy="233.8" r="1"/><circle cx="243.4" cy="235.9" r="1"/><circle cx="243.4" cy="241.3" r="1"/><circle cx="243.4" cy="245.0" r="1"/><circle cx="243.4" cy="251.9" r="1"/><circle cx="243.4" cy="255.1" r="1"/><circle cx="243.4" cy="259.9" r="1"/><circle cx="335.7" cy="185.8" r="1"/><circle cx="341.8" cy="185.8" r="1"/><circle cx="341.0" cy="189.5" r="1"/><circle cx="342.9" cy="189.0" r="1"/><circle cx="353.0" cy="193.3" r="1"/><circle cx="358.1" cy="194.3" r="1"/><circle cx="357.8" cy="196.5" r="1"/><circle cx="357.3" cy="198.6" r="1"/><circle cx="345.8" cy="196.2" r="1"/><circle cx="345.8" cy="199.1" r="1"/><circle cx="342.9" cy="200.7" r="1"/><circle cx="345.8" cy="203.4" r="1"/><circle cx="358.1" cy="203.4" r="1"/><circle cx="362.6" cy="205.8" r="1"/><circle cx="362.1" cy="208.2" r="1"/><circle cx="345.8" cy="210.6" r="1"/><circle cx="353.0" cy="210.6" r="1"/><circle cx="340.5" cy="213.3" r="1"/><circle cx="345.8" cy="213.3" r="1"/><circle cx="357.0" cy="219.4" r="1"/><circle cx="285.3" cy="188.5" r="1"/><circle cx="433.0" cy="171.1" r="1"/><circle cx="431.1" cy="173.4" r="1"/><circle cx="434.6" cy="173.0" r="1"/><circle cx="432.2" cy="175.5" r="1"/><circle cx="434.9" cy="175.8" r="1"/><circle cx="435.3" cy="177.9" r="1"/><circle cx="433.8" cy="180.6" r="1"/><circle cx="432.8" cy="172.4" r="1"/><circle cx="434.2" cy="174.6" r="1"/><circle cx="440.7" cy="167.4" r="1"/><circle cx="440.7" cy="171.4" r="1"/><circle cx="440.7" cy="173.8" r="1"/><circle cx="440.7" cy="176.2" r="1"/><circle cx="440.7" cy="179.4" r="1"/><circle cx="440.7" cy="183.4" r="1"/><circle cx="440.7" cy="187.4" r="1"/><circle cx="440.7" cy="191.4" r="1"/><circle cx="430.9" cy="185.8" r="1"/><circle cx="433.8" cy="187.4" r="1"/><circle cx="435.4" cy="189.8" r="1"/><circle cx="438.6" cy="186.3" r="1"/><circle cx="438.6" cy="192.2" r="1"/><circle cx="441.0" cy="189.8" r="1"/><circle cx="452.4" cy="170.7" r="1"/><circle cx="452.4" cy="159.9" r="1"/><circle cx="451.9" cy="156.3" r="1"/><circle cx="452.8" cy="160.9" r="1"/><circle cx="452.0" cy="163.1" r="1"/><circle cx="453.2" cy="162.1" r="1"/><circle cx="452.9" cy="172.5" r="1"/><circle cx="452.0" cy="167.9" r="1"/><circle cx="452.8" cy="164.4" r="1"/><circle cx="452.3" cy="171.0" r="1"/><circle cx="451.6" cy="166.4" r="1"/><circle cx="453.0" cy="160.1" r="1"/><circle cx="452.4" cy="171.9" r="1"/><circle cx="452.0" cy="159.2" r="1"/><circle cx="452.6" cy="170.8" r="1"/><circle cx="452.2" cy="175.0" r="1"/><circle cx="452.9" cy="165.5" r="1"/><circle cx="452.2" cy="171.4" r="1"/><circle cx="452.5" cy="162.7" r="1"/><circle cx="452.9" cy="172.1" r="1"/><circle cx="452.1" cy="161.4" r="1"/><circle cx="453.7" cy="160.1" r="1"/><circle cx="452.0" cy="158.0" r="1"/><circle cx="451.5" cy="168.3" r="1"/><circle cx="453.2" cy="169.5" r="1"/><circle cx="452.7" cy="171.2" r="1"/><circle cx="451.8" cy="163.7" r="1"/><circle cx="451.8" cy="163.6" r="1"/><circle cx="452.4" cy="173.2" r="1"/><circle cx="452.0" cy="156.4" r="1"/><circle cx="452.3" cy="173.5" r="1"/><circle cx="452.7" cy="165.7" r="1"/><circle cx="448.5" cy="165.8" r="1"/><circle cx="448.5" cy="174.6" r="1"/><circle cx="456.8" cy="162.9" r="1"/><circle cx="457.6" cy="165.0" r="1"/><circle cx="456.6" cy="167.4" r="1"/><circle cx="456.9" cy="169.8" r="1"/><circle cx="457.1" cy="171.9" r="1"/><circle cx="462.2" cy="159.7" r="1"/><circle cx="462.2" cy="162.3" r="1"/><circle cx="462.0" cy="164.5" r="1"/><circle cx="461.6" cy="166.6" r="1"/><circle cx="461.5" cy="168.7" r="1"/><circle cx="461.2" cy="170.6" r="1"/><circle cx="462.3" cy="173.0" r="1"/><circle cx="469.3" cy="160.5" r="1"/><circle cx="469.4" cy="162.6" r="1"/><circle cx="468.5" cy="164.5" r="1"/><circle cx="468.9" cy="166.6" r="1"/><circle cx="469.4" cy="168.7" r="1"/><circle cx="469.1" cy="170.6" r="1"/><circle cx="468.4" cy="172.5" r="1"/><circle cx="468.9" cy="174.6" r="1"/><circle cx="473.0" cy="161.8" r="1"/><circle cx="473.0" cy="163.4" r="1"/><circle cx="473.0" cy="172.5" r="1"/><circle cx="473.0" cy="175.1" r="1"/><circle cx="475.4" cy="161.0" r="1"/><circle cx="477.8" cy="167.1" r="1"/><circle cx="481.5" cy="168.2" r="1"/><circle cx="481.5" cy="177.0" r="1"/><circle cx="472.5" cy="186.9" r="1"/><circle cx="477.0" cy="179.9" r="1"/><circle cx="477.0" cy="182.6" r="1"/><circle cx="477.0" cy="185.0" r="1"/><circle cx="477.0" cy="187.4" r="1"/><circle cx="483.9" cy="180.5" r="1"/><circle cx="483.9" cy="183.4" r="1"/><circle cx="483.9" cy="186.6" r="1"/><circle cx="483.9" cy="189.8" r="1"/><circle cx="492.7" cy="179.7" r="1"/><circle cx="492.7" cy="182.6" r="1"/><circle cx="492.7" cy="184.2" r="1"/><circle cx="496.2" cy="184.5" r="1"/><circle cx="496.2" cy="186.9" r="1"/><circle cx="513.0" cy="188.5" r="1"/><circle cx="497.0" cy="192.2" r="1"/><circle cx="505.0" cy="192.2" r="1"/><circle cx="448.2" cy="194.3" r="1"/><circle cx="431.0" cy="185.8" r="1"/><circle cx="433.9" cy="186.9" r="1"/><circle cx="438.2" cy="186.6" r="1"/><circle cx="435.0" cy="189.8" r="1"/><circle cx="440.6" cy="189.8" r="1"/><circle cx="441.1" cy="191.1" r="1"/><circle cx="438.2" cy="192.2" r="1"/><circle cx="438.2" cy="195.4" r="1"/><circle cx="448.1" cy="194.6" r="1"/><circle cx="448.1" cy="199.4" r="1"/><circle cx="441.1" cy="198.6" r="1"/><circle cx="441.1" cy="201.8" r="1"/><circle cx="441.4" cy="204.2" r="1"/><circle cx="448.6" cy="204.2" r="1"/><circle cx="409.4" cy="196.7" r="1"/><circle cx="423.8" cy="200.5" r="1"/><circle cx="399.8" cy="221.0" r="1"/><circle cx="400.6" cy="222.6" r="1"/><circle cx="419.8" cy="227.9" r="1"/><circle cx="472.6" cy="186.9" r="1"/><circle cx="477.1" cy="186.6" r="1"/><circle cx="419.8" cy="227.9" r="1"/><circle cx="419.8" cy="238.3" r="1"/><circle cx="419.8" cy="243.4" r="1"/><circle cx="419.8" cy="245.0" r="1"/><circle cx="419.8" cy="246.6" r="1"/><circle cx="419.8" cy="249.8" r="1"/><circle cx="419.8" cy="253.5" r="1"/><circle cx="419.8" cy="257.0" r="1"/><circle cx="419.8" cy="259.4" r="1"/><circle cx="419.8" cy="263.4" r="1"/><circle cx="419.8" cy="266.3" r="1"/><circle cx="419.8" cy="267.9" r="1"/><circle cx="419.8" cy="269.5" r="1"/><circle cx="419.8" cy="270.6" r="1"/><circle cx="417.1" cy="261.0" r="1"/><circle cx="417.4" cy="267.9" r="1"/><circle cx="472.7" cy="186.9" r="1"/><circle cx="477.2" cy="186.6" r="1"/><circle cx="483.6" cy="185.8" r="1"/><circle cx="483.6" cy="189.5" r="1"/><circle cx="483.6" cy="194.9" r="1"/><circle cx="483.6" cy="200.2" r="1"/><circle cx="492.4" cy="185.0" r="1"/><circle cx="496.1" cy="186.9" r="1"/><circle cx="496.9" cy="192.2" r="1"/><circle cx="497.5" cy="195.4" r="1"/><circle cx="494.0" cy="197.0" r="1"/><circle cx="496.4" cy="200.2" r="1"/><circle cx="496.1" cy="202.6" r="1"/><circle cx="504.9" cy="192.2" r="1"/><circle cx="504.9" cy="194.6" r="1"/><circle cx="504.4" cy="197.8" r="1"/><circle cx="508.4" cy="201.0" r="1"/><circle cx="506.0" cy="203.4" r="1"/><circle cx="510.0" cy="209.3" r="1"/><circle cx="512.9" cy="189.0" r="1"/><circle cx="513.2" cy="196.2" r="1"/><circle cx="513.2" cy="219.4" r="1"/><circle cx="513.2" cy="222.6" r="1"/><circle cx="497.5" cy="218.9" r="1"/><circle cx="537.5" cy="201.8" r="1"/><circle cx="539.9" cy="209.0" r="1"/><circle cx="539.9" cy="212.5" r="1"/><circle cx="497.5" cy="203.9" r="1"/><circle cx="497.5" cy="205.5" r="1"/><circle cx="497.5" cy="207.1" r="1"/><circle cx="497.5" cy="209.0" r="1"/><circle cx="513.2" cy="199.7" r="1"/><circle cx="513.2" cy="201.8" r="1"/><circle cx="513.2" cy="203.9" r="1"/><circle cx="513.2" cy="205.8" r="1"/><circle cx="513.2" cy="207.7" r="1"/><circle cx="513.2" cy="209.0" r="1"/>
</g>
<text class="big" font-size="12.35" transform="translate(12.9,203.8) rotate(-90)">SHAP value for features</text>
<text class="big" font-size="12.3" x="260.4" y="312.8">Feature value</text>
</svg>
</body></html>
